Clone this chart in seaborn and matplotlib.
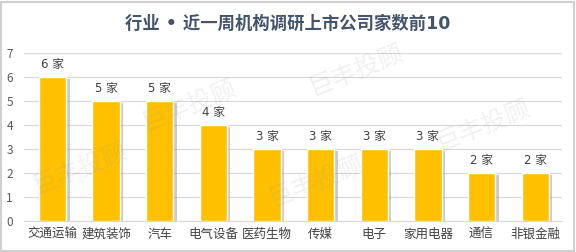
import matplotlib
matplotlib.use("Agg")
import matplotlib.pyplot as plt
import matplotlib.patheffects as pe
import pandas as pd
import seaborn as sns

industries = ["交通运输", "建筑装饰", "汽车", "电气设备", "医药生物",
              "传媒", "电子", "家用电器", "通信", "非银金融"]
counts = [6, 5, 5, 4, 3, 3, 3, 3, 2, 2]
yticks = [0, 1, 2, 3, 4, 5, 6, 7]

df = pd.DataFrame({"industry": industries, "count": counts})

sns.set_style("white")
plt.rcParams['font.family'] = ['Noto Sans CJK SC', 'DejaVu Sans']

fig = plt.figure(figsize=(5.76, 2.52), dpi=100)
ax = fig.add_axes([24 / 576, 31 / 252, 538 / 576, 168 / 252])

sns.barplot(data=df, x="industry", y="count", color="#FFC000",
            saturation=1, width=0.51, ax=ax, zorder=3)
for p in ax.patches:
    p.set_path_effects([pe.SimplePatchShadow(offset=(2.5, -1.5), shadow_rgbFace="#7f7f7f", alpha=0.4),
                        pe.Normal()])

for i, v in enumerate(counts):
    ax.text(i, v + 0.25, f"{v} 家", ha="center", va="bottom", fontsize=8.5, color="#404040",
            family=['DejaVu Sans', 'Noto Sans CJK SC'])

ax.set_xlim(-0.53, 9.5)
ax.set_ylim(0, 7)
ax.set_yticks(yticks)
ax.grid(axis="y", color="#D9D9D9", linewidth=0.9, zorder=0)
for s in ["top", "right", "left"]:
    ax.spines[s].set_visible(False)
ax.spines["bottom"].set_color("#D9D9D9")
ax.tick_params(axis="y", length=0, labelsize=8.5, labelcolor="#595959", pad=8)
ax.tick_params(axis="x", length=0, labelsize=9, labelcolor="#404040", pad=5)
ax.set_xlabel("")
ax.set_ylabel("")

# watermark
for (wx, wy) in [(0.33, 0.58), (0.14, 0.33), (0.62, 0.72), (0.84, 0.5), (0.55, 0.28)]:
    fig.text(wx, wy, "巨丰投顾", fontsize=18, color="#a0a0a0", alpha=0.15,
             rotation=22, rotation_mode="anchor", ha="center", va="center")

fig.text(0.5, 0.905, "行业 • 近一周机构调研上市公司家数前10", ha="center", va="center",
         fontsize=12.5, fontweight="bold", color="#44546A",
         family=['DejaVu Sans', 'Noto Sans CJK SC'])

fig.patches.append(plt.Rectangle((0.002, 0.004), 0.994, 0.99, transform=fig.transFigure,
                                 fill=False, edgecolor="#D0D0D0", linewidth=1.5))

fig.savefig("out.png", dpi=100)
